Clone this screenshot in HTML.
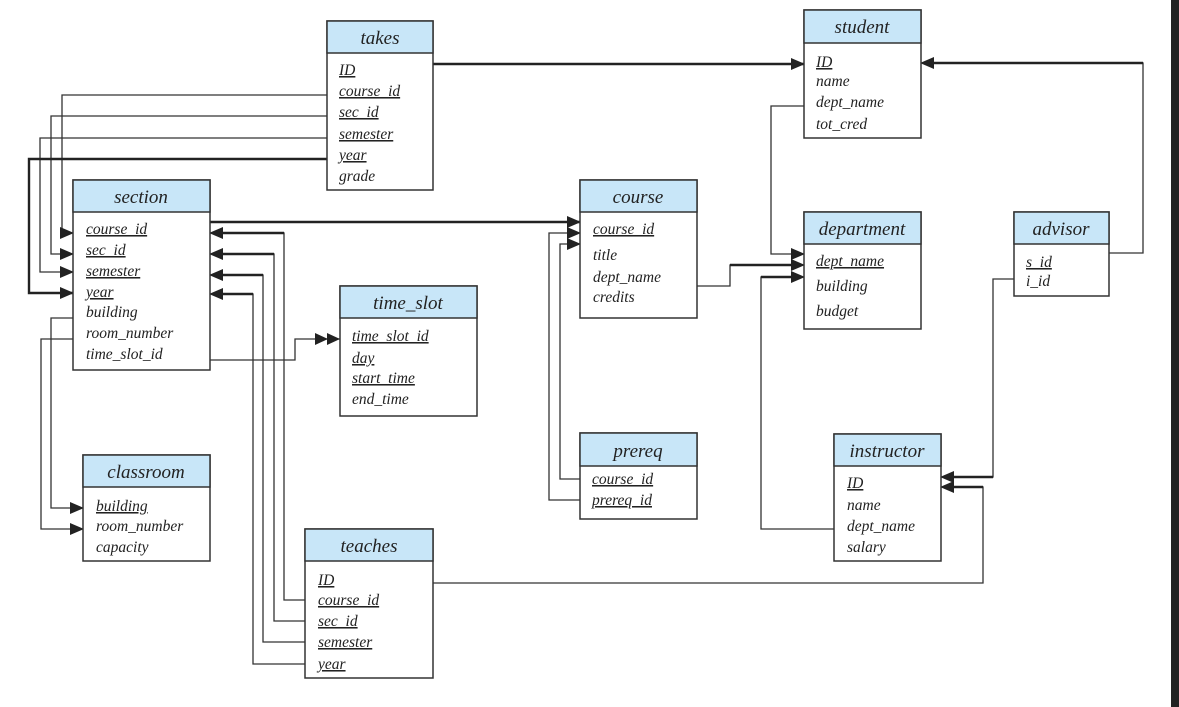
<!DOCTYPE html>
<html><head><meta charset="utf-8"><style>
html,body{margin:0;padding:0;background:#fff;}
svg{display:block;}
text{font-family:"Liberation Serif",serif;font-style:italic;fill:#222;}
.h{font-size:19px;text-anchor:middle;}
.r{font-size:15.5px;}
.u{text-decoration:underline;}
.box{fill:#fff;stroke:#333;stroke-width:1.5;}
.hd{fill:#c8e6f8;stroke:#333;stroke-width:1.5;}
.l{fill:none;stroke:#333;stroke-width:1.3;}
.t{fill:none;stroke:#222;stroke-width:2.4;}
</style></head><body>
<svg width="1179" height="707" viewBox="0 0 1179 707" xmlns="http://www.w3.org/2000/svg">
<defs>
<marker id="a" markerWidth="14" markerHeight="12" refX="13" refY="6" orient="auto" markerUnits="userSpaceOnUse"><path d="M0,0 L14,6 L0,12 Z" fill="#222"/></marker>
<marker id="aa" markerWidth="26" markerHeight="12" refX="25" refY="6" orient="auto" markerUnits="userSpaceOnUse"><path d="M0,0 L13,6 L0,12 Z M12,0 L25,6 L12,12 Z" fill="#222"/></marker>
</defs>
<rect x="1171" y="0" width="8" height="707" fill="#222"/>

<!-- connectors -->
<polyline class="t" points="433,64 804,64" marker-end="url(#a)"/>
<polyline class="l" points="327,95 62,95 62,233 73,233" marker-end="url(#a)"/>
<polyline class="l" points="327,116 51,116 51,254 73,254" marker-end="url(#a)"/>
<polyline class="l" points="327,138 40,138 40,272 73,272" marker-end="url(#a)"/>
<polyline class="t" points="327,159 29,159 29,293 73,293" marker-end="url(#a)"/>
<polyline class="l" points="73,318 51,318 51,508 83,508" marker-end="url(#a)"/>
<polyline class="l" points="73,339 41,339 41,529 83,529" marker-end="url(#a)"/>
<polyline class="l" points="210,360 295,360 295,339 340,339" marker-end="url(#aa)"/>
<polyline class="t" points="210,222 580,222" marker-end="url(#a)"/>
<polyline class="l" points="580,500 549,500 549,233 580,233" marker-end="url(#a)"/>
<polyline class="l" points="580,479 560,479 560,244 580,244" marker-end="url(#a)"/>
<polyline class="l" points="305,600 284,600 284,233 210,233" marker-end="url(#a)"/>
<polyline class="l" points="305,621 274,621 274,254 210,254" marker-end="url(#a)"/>
<polyline class="l" points="305,642 263,642 263,275 210,275" marker-end="url(#a)"/>
<polyline class="l" points="305,664 253,664 253,294 210,294" marker-end="url(#a)"/>
<polyline class="t" points="284,233 220,233"/><polyline class="t" points="274,254 220,254"/><polyline class="t" points="263,275 220,275"/><polyline class="t" points="253,294 220,294"/>
<polyline class="l" points="433,583 983,583 983,487 941,487" marker-end="url(#a)"/>
<polyline class="l" points="1014,279 993,279 993,477 941,477" marker-end="url(#a)"/>
<polyline class="t" points="993,477 950,477"/><polyline class="t" points="983,487 950,487"/>
<polyline class="l" points="1109,253 1143,253 1143,63 921,63" marker-end="url(#a)"/>
<polyline class="t" points="1143,63 930,63"/>
<polyline class="l" points="804,106 771,106 771,254 804,254" marker-end="url(#a)"/>
<polyline class="l" points="697,286 730,286 730,265 804,265" marker-end="url(#a)"/>
<polyline class="t" points="730,265 795,265"/>
<polyline class="l" points="834,529 761,529 761,277 804,277" marker-end="url(#a)"/>
<polyline class="t" points="761,277 795,277"/>

<!-- takes -->
<rect class="box" x="327" y="21" width="106" height="169"/><rect class="hd" x="327" y="21" width="106" height="32"/>
<text class="h" x="380" y="44">takes</text>
<text class="r u" x="339" y="75">ID</text><text class="r u" x="339" y="96">course_id</text><text class="r u" x="339" y="117">sec_id</text><text class="r u" x="339" y="139">semester</text><text class="r u" x="339" y="160">year</text><text class="r" x="339" y="181">grade</text>

<!-- section -->
<rect class="box" x="73" y="180" width="137" height="190"/><rect class="hd" x="73" y="180" width="137" height="32"/>
<text class="h" x="141" y="203">section</text>
<text class="r u" x="86" y="234">course_id</text><text class="r u" x="86" y="255">sec_id</text><text class="r u" x="86" y="276">semester</text><text class="r u" x="86" y="297">year</text><text class="r" x="86" y="317">building</text><text class="r" x="86" y="338">room_number</text><text class="r" x="86" y="359">time_slot_id</text>

<!-- time_slot -->
<rect class="box" x="340" y="286" width="137" height="130"/><rect class="hd" x="340" y="286" width="137" height="32"/>
<text class="h" x="408" y="309">time_slot</text>
<text class="r u" x="352" y="341">time_slot_id</text><text class="r u" x="352" y="363">day</text><text class="r u" x="352" y="383">start_time</text><text class="r" x="352" y="404">end_time</text>

<!-- classroom -->
<rect class="box" x="83" y="455" width="127" height="106"/><rect class="hd" x="83" y="455" width="127" height="32"/>
<text class="h" x="146" y="478">classroom</text>
<text class="r u" x="96" y="511">building</text><text class="r" x="96" y="531">room_number</text><text class="r" x="96" y="552">capacity</text>

<!-- teaches -->
<rect class="box" x="305" y="529" width="128" height="149"/><rect class="hd" x="305" y="529" width="128" height="32"/>
<text class="h" x="369" y="552">teaches</text>
<text class="r u" x="318" y="585">ID</text><text class="r u" x="318" y="605">course_id</text><text class="r u" x="318" y="626">sec_id</text><text class="r u" x="318" y="647">semester</text><text class="r u" x="318" y="669">year</text>

<!-- course -->
<rect class="box" x="580" y="180" width="117" height="138"/><rect class="hd" x="580" y="180" width="117" height="32"/>
<text class="h" x="638" y="203">course</text>
<text class="r u" x="593" y="234">course_id</text><text class="r" x="593" y="260">title</text><text class="r" x="593" y="282">dept_name</text><text class="r" x="593" y="302">credits</text>

<!-- prereq -->
<rect class="box" x="580" y="433" width="117" height="86"/><rect class="hd" x="580" y="433" width="117" height="33"/>
<text class="h" x="638" y="457">prereq</text>
<text class="r u" x="592" y="484">course_id</text><text class="r u" x="592" y="505">prereq_id</text>

<!-- student -->
<rect class="box" x="804" y="10" width="117" height="128"/><rect class="hd" x="804" y="10" width="117" height="33"/>
<text class="h" x="862" y="33">student</text>
<text class="r u" x="816" y="67">ID</text><text class="r" x="816" y="86">name</text><text class="r" x="816" y="107">dept_name</text><text class="r" x="816" y="129">tot_cred</text>

<!-- department -->
<rect class="box" x="804" y="212" width="117" height="117"/><rect class="hd" x="804" y="212" width="117" height="32"/>
<text class="h" x="862" y="235">department</text>
<text class="r u" x="816" y="266">dept_name</text><text class="r" x="816" y="291">building</text><text class="r" x="816" y="316">budget</text>

<!-- advisor -->
<rect class="box" x="1014" y="212" width="95" height="84"/><rect class="hd" x="1014" y="212" width="95" height="32"/>
<text class="h" x="1061" y="235">advisor</text>
<text class="r u" x="1026" y="267">s_id</text><text class="r" x="1026" y="286">i_id</text>

<!-- instructor -->
<rect class="box" x="834" y="434" width="107" height="127"/><rect class="hd" x="834" y="434" width="107" height="32"/>
<text class="h" x="887" y="457">instructor</text>
<text class="r u" x="847" y="488">ID</text><text class="r" x="847" y="510">name</text><text class="r" x="847" y="531">dept_name</text><text class="r" x="847" y="552">salary</text>
</svg>
</body></html>
